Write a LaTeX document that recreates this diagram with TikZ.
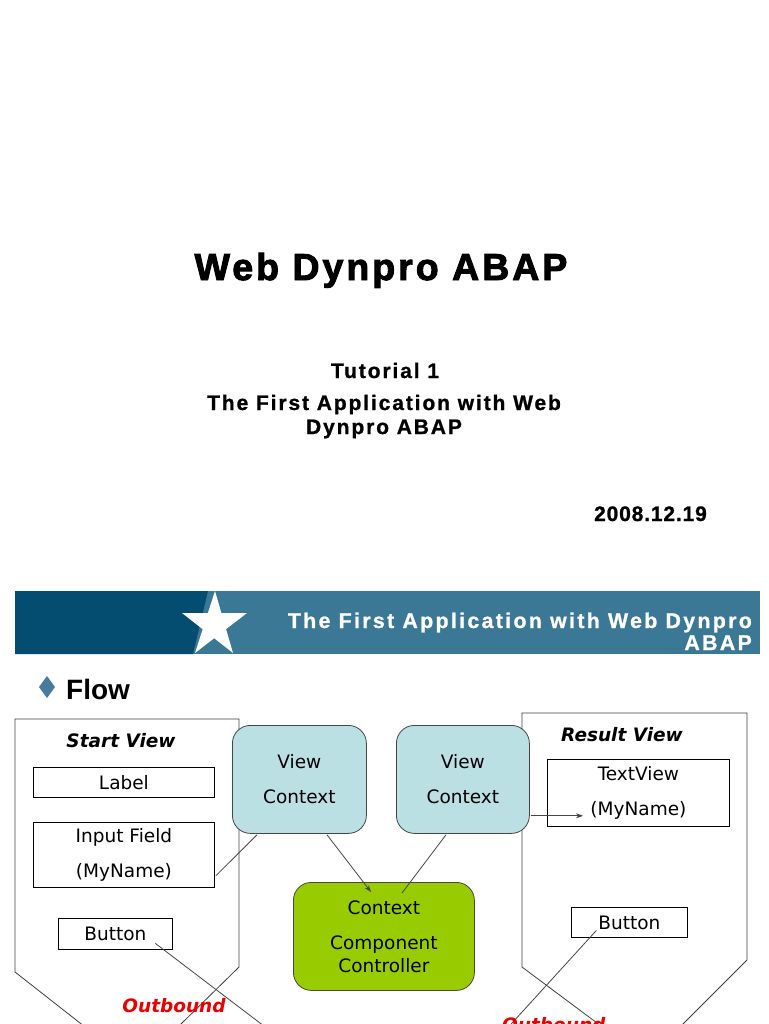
\documentclass[tikz,border=0pt]{standalone}
\usepackage{fontspec}
\setmainfont{Liberation Sans}
\newfontfamily\dejavu{DejaVu Sans}
\newfontfamily\titlefont[LetterSpace=8,FakeBold=2.5]{Liberation Sans}
\newfontfamily\subfont[LetterSpace=9,FakeBold=1]{Liberation Sans}
\newfontfamily\datefont[LetterSpace=4,FakeBold=1]{Liberation Sans}
\newfontfamily\banfont[LetterSpace=11,FakeBold=1]{Liberation Sans}
\usetikzlibrary{arrows.meta,calc}
\definecolor{bandark}{RGB}{4,77,112}
\definecolor{banlight}{RGB}{58,120,150}
\definecolor{ctxblue}{RGB}{186,224,228}
\definecolor{ctxgreen}{RGB}{153,204,0}
\definecolor{bulletblue}{RGB}{74,122,158}
\definecolor{outred}{RGB}{235,0,0}
\definecolor{linegray}{RGB}{70,70,70}
\begin{document}
\begin{tikzpicture}[x=1pt,y=-1pt,
  dtext/.style={font=\dejavu\fontsize{18.5}{35}\selectfont, align=center},
  box/.style={dtext, draw=black, line width=0.8pt, inner sep=0pt},
  ctxbox/.style={dtext, draw=linegray, line width=0.8pt, rounded corners=18pt, inner sep=0pt},
  viewtitle/.style={font=\dejavu\bfseries\itshape\fontsize{18.5}{22}\selectfont},
  outlbl/.style={font=\dejavu\bfseries\itshape\fontsize{18.5}{22}\selectfont, text=outred},
  conn/.style={draw=linegray, line width=0.8pt},
  arr/.style={conn, -{Stealth[length=7pt,width=5pt]}},
  pent/.style={draw=black!75, line width=0.8pt}]
\useasboundingbox (0,0) rectangle (768,1024);
\clip (0,0) rectangle (768,1024);
\fill[white] (0,0) rectangle (768,1024);

% ---------- title page part ----------
\node[font=\titlefont\bfseries\fontsize{37.5}{40}\selectfont, anchor=base] (title) at (381,280) {Web Dynpro ABAP};
\node[font=\subfont\bfseries\fontsize{21}{24}\selectfont, anchor=base] (tut) at (385,378) {Tutorial 1};
\node[font=\subfont\bfseries\fontsize{21}{24}\selectfont, anchor=base] (sub1) at (384,410) {The First Application with Web};
\node[font=\subfont\bfseries\fontsize{21}{24}\selectfont, anchor=base] (sub2) at (384,434) {Dynpro ABAP};
\node[font=\datefont\bfseries\fontsize{21}{24}\selectfont, anchor=base east, inner sep=0pt] (date) at (707,521) {2008.12.19};

% ---------- banner ----------
\fill[banlight] (15,591) rectangle (760,654);
\fill[bandark] (15,591) -- (208,591) -- (193,654) -- (15,654) -- cycle;
\fill[white] (215,591) -- (233,653) -- (182,613) -- (247,613) -- (195,653) -- cycle;
\node[font=\banfont\bfseries\fontsize{21.3}{22}\selectfont, text=white, anchor=base east, inner sep=0pt] (ban1) at (752,628) {The First Application with Web Dynpro};
\node[font=\banfont\bfseries\fontsize{21.3}{22}\selectfont, text=white, anchor=base east, inner sep=0pt] (ban2) at (752,650) {ABAP};

% ---------- Flow heading ----------
\fill[bulletblue] (47,676) -- (55,687) -- (47,698) -- (39,687) -- cycle;
\node[font=\bfseries\fontsize{28}{30}\selectfont, anchor=base west, inner sep=0pt] (flow) at (66,699) {Flow};

% ---------- view outlines ----------
\draw[pent] (101.7,1040) -- (15,972) -- (15,719) -- (239,719) -- (239,967) -- (164.7,1040);
\draw[pent] (619.8,1040) -- (522,967) -- (522,713) -- (747,713) -- (747,960) -- (667,1040);

% ---------- Start view ----------
\node[viewtitle] (svt) at (121,741) {Start View};
\node[box, minimum width=181pt, minimum height=30pt, anchor=north west] (lbl) at (33,767) {Label};
\node[box, minimum width=181pt, minimum height=65pt, anchor=north west] (inp) at (33,822) {Input Field\\(MyName)};
\node[box, minimum width=114pt, minimum height=31pt, anchor=north west] (sbtn) at (58,918) {Button};

% ---------- Result view ----------
\node[viewtitle] (rvt) at (622,735) {Result View};
\node[box, minimum width=182pt, minimum height=67pt, anchor=north west] (tv) at (547,759) {TextView\\(MyName)};
\node[box, minimum width=116pt, minimum height=30pt, anchor=north west] (rbtn) at (571,907) {Button};

% ---------- contexts ----------
\node[ctxbox, fill=ctxblue, minimum width=134pt, minimum height=108pt, anchor=north west] (vc1) at (232,725) {View\\Context};
\node[ctxbox, fill=ctxblue, minimum width=133pt, minimum height=108pt, anchor=north west] (vc2) at (396,725) {View\\Context};
\node[ctxbox, fill=ctxgreen, minimum width=181pt, minimum height=108pt, anchor=north west] (ccc) at (293,882) {Context\\Component\\[-12pt]Controller};

% ---------- connectors ----------
\draw[conn] ($(inp.south east)+(1,-12)$) -- ($(vc1.south west)+(25,1)$);
\draw[arr] ($(vc1.south west)+(95,1)$) -- ($(ccc.north west)+(78,10)$);
\draw[conn] ($(vc2.south west)+(50,1)$) -- ($(ccc.north west)+(109,11)$);
\draw[arr] ($(vc2.south east)+(1,-18)$) -- ($(tv.south west)+(36,-11)$);

\coordinate (send) at (282.3,1040);
\coordinate (rend) at (496.6,1040);
\draw[conn] ($(sbtn.center)+(40,9.5)$) -- (send);
\draw[conn] ($(rbtn.center)+(-33,8)$) -- (rend);

% ---------- outbound labels ----------
\node[outlbl] (ob1) at (174,1006) {Outbound};
\node[outlbl, anchor=base west, inner sep=0pt] (ob2) at (502,1031) {Outbound};
\end{tikzpicture}
\end{document}
